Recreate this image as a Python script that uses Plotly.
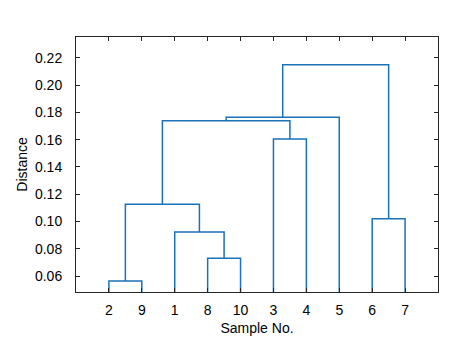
import plotly.graph_objects as go

# Leaf order along the x axis (sample numbers)
leaf_order = [2, 9, 1, 8, 10, 3, 4, 5, 6, 7]
tick_labels = [str(s) for s in leaf_order]

# Linkage (MATLAB style): new cluster ids start at 11
link_left = [2, 8, 1, 6, 11, 3, 15, 17, 18]
link_right = [9, 10, 12, 7, 13, 4, 16, 5, 14]
link_height = [0.0563, 0.0730, 0.0922, 0.1020, 0.1127, 0.1604, 0.1738, 0.1763, 0.2148]

y_ticks = [0.06, 0.08, 0.10, 0.12, 0.14, 0.16, 0.18, 0.20, 0.22]

n_leaves = len(leaf_order)
pos = {s: i + 1 for i, s in enumerate(leaf_order)}
hgt = {s: 0.0 for s in leaf_order}

xs, ys = [], []
for k, (a, b, h) in enumerate(zip(link_left, link_right, link_height)):
    nid = n_leaves + 1 + k
    xa, xb = pos[a], pos[b]
    xs += [xa, xa, xb, xb, None]
    ys += [hgt[a], h, h, hgt[b], None]
    pos[nid] = (xa + xb) / 2
    hgt[nid] = h

fig = go.Figure()
fig.add_trace(go.Scatter(x=xs, y=ys, mode="lines",
                         line=dict(color="#1A72B8", width=1.5),
                         hoverinfo="skip", showlegend=False))

font_family = "Liberation Sans, Arial, Helvetica, sans-serif"
axis_common = dict(showline=True, mirror="ticks", linecolor="#262626", linewidth=1,
                   ticks="inside", ticklen=4, tickcolor="#262626", showgrid=False,
                   zeroline=False, tickfont=dict(family=font_family, size=14, color="#000000"),
                   title_font=dict(family=font_family, size=14, color="#000000"))

fig.update_xaxes(range=[0, 11], tickmode="array", tickvals=list(range(1, n_leaves + 1)),
                 ticktext=tick_labels, title_text="Sample No.", title_standoff=6,
                 ticklabelstandoff=5, **axis_common)
fig.update_yaxes(range=[0.0483, 0.2352], tickmode="array", tickvals=y_ticks,
                 tickformat=".2f", title_text="Distance", title_standoff=4,
                 ticklabelstandoff=10, **axis_common)

fig.update_layout(width=474, height=350, margin=dict(l=76, r=36, t=37, b=58),
                  paper_bgcolor="white", plot_bgcolor="white",
                  font=dict(family=font_family, size=14, color="#000000"))

fig.write_html("out.html")
